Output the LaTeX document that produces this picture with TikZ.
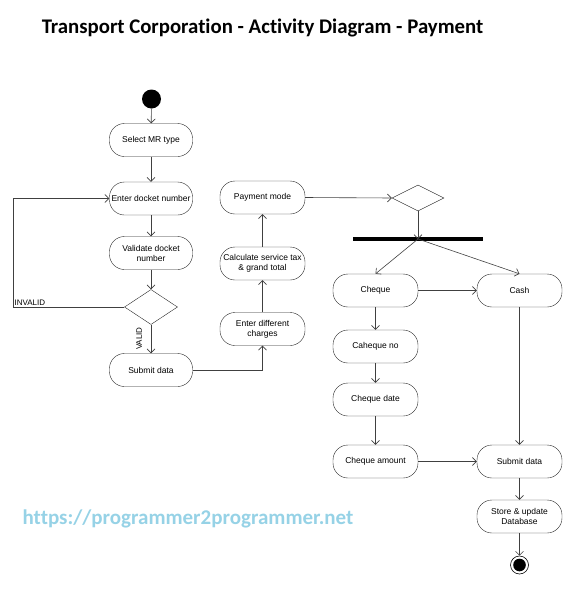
\documentclass[tikz,border=0pt]{standalone}
\usepackage{fontspec}
\setmainfont{Liberation Sans}
\newfontfamily\titlefont[Ligatures=NoCommon]{Carlito}
\usetikzlibrary{arrows.meta,shapes.geometric}
\definecolor{wmblue}{RGB}{150,210,230}
\tikzset{
  activity/.style={draw=black!85, rectangle, rounded corners=15pt, minimum width=85pt, minimum height=33pt, inner sep=1pt, align=center, font=\fontsize{8.5}{10}\selectfont},
  decision/.style={draw=black!85, diamond, inner sep=0pt},
  flow/.style={draw=black!75, line width=0.6pt, -{Straight Barb[length=4pt,width=8pt]}},
  guard/.style={font=\fontsize{8}{9}\selectfont, inner sep=1pt},
  endstate/.style={circle, draw, line width=0.6pt, minimum size=18pt, inner sep=0pt, path picture={\fill (path picture bounding box.center) circle (6.3pt);}}
}
\begin{document}
\begin{tikzpicture}[x=1pt,y=-1pt]
\useasboundingbox (0,0) rectangle (572,592);
\node[font=\titlefont\bfseries\fontsize{20.8}{24}\selectfont] (title) at (262.5,28) {Transport Corporation - Activity Diagram - Payment};
%left column
\node[circle, fill=black, minimum size=19pt, inner sep=0pt] (start) at (151.5,99) {};
\node[activity, minimum width=83pt] (select) at (151,140) {Select MR type};
\node[activity, minimum width=83pt] (docket) at (151,198.5) {Enter docket number};
\node[activity, minimum width=83pt] (validate) at (151,253) {Validate docket\\number};
\node[decision, minimum width=53pt, minimum height=35pt] (check) at (151,307) {};
\node[activity, minimum width=83pt] (submit) at (151,370) {Submit data};
\node[guard, rotate=90] (valid) at (139,338.5) {VALID};
%middle column
\node[activity] (charges) at (262.5,329) {Enter different\\charges};
\node[activity] (calc) at (262.5,263.5) {Calculate service tax\\\& grand total};
\node[activity] (paymode) at (262.5,197.5) {Payment mode};
%right part
\node[decision, minimum width=52pt, minimum height=26pt] (mode) at (418,198) {};
\node[fill=black, minimum width=130pt, minimum height=3.5pt, inner sep=0pt] (fork) at (418,239) {};
\node[activity] (cheque) at (375.5,290.5) {Cheque};
\node[activity] (cash) at (519.5,290.5) {Cash};
\node[activity] (chqno) at (375.5,346.5) {Caheque no};
\node[activity] (chqdate) at (375.5,399.5) {Cheque date};
\node[activity] (chqamt) at (375.5,461.5) {Cheque amount};
\node[activity] (submit2) at (519.5,461.5) {Submit data};
\node[activity] (store) at (519.5,516.5) {Store \& update\\Database};
\node[endstate] (end) at (519.5,565) {};
\node[font=\titlefont\bfseries\fontsize{21}{24}\selectfont, text=wmblue] (site) at (188,519) {https://programmer2programmer.net};
%flows
\draw[flow] (start) -- (select);
\draw[flow] (select) -- (docket);
\draw[flow] (docket) -- (validate);
\draw[flow] (validate) -- (check.north);
\draw[flow] (check.south) -- (submit);
\draw[flow] (check.west) -- ++(-111,0) node[above right, guard] {INVALID} |- (docket.west);
\draw[flow] (submit.east) -| (charges.south);
\draw[flow] (charges) -- (calc);
\draw[flow] (calc) -- (paymode);
\draw[flow] (paymode.east) -- (mode.west);
\draw[flow] (mode.south) -- (fork.center);
\draw[flow] (fork.center) -- (cheque.north);
\draw[flow] (fork.center) -- (cash.north);
\draw[flow] (cheque) -- (cash);
\draw[flow] (cheque) -- (chqno);
\draw[flow] (chqno) -- (chqdate);
\draw[flow] (chqdate) -- (chqamt);
\draw[flow] (chqamt) -- (submit2);
\draw[flow] (cash) -- (submit2);
\draw[flow] (submit2) -- (store);
\draw[flow] (store) -- (end);
\end{tikzpicture}
\end{document}
